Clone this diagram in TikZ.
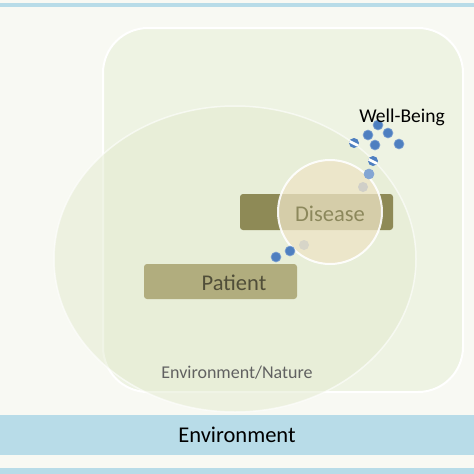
\documentclass[tikz,border=0pt]{standalone}
\usepackage{fontspec}
\setmainfont{Carlito}
\begin{document}
\begin{tikzpicture}[x=1pt,y=-1pt,
  bar/.style={rounded corners=3pt, draw=none},
  dot/.style={circle, inner sep=0pt, minimum size=10pt, fill=dotblue, draw=dotblue!70!white, line width=0.6pt},
  fdot/.style={circle, inner sep=0pt, minimum size=10pt, fill=dotgray, draw=none},
  sdot/.style={circle, inner sep=0pt, minimum size=10pt, fill=dotblue, draw=none, path picture={\fill[white] ([xshift=-6pt,yshift=1pt]path picture bounding box.center) -- ++(12pt,-6pt) -- ++(0,3pt) -- ++(-12pt,6pt) -- cycle;}},
  lbl/.style={inner sep=0pt}]
\definecolor{bg}{HTML}{F8F9F3}
\definecolor{bandblue}{HTML}{B8DCE8}
\definecolor{rectgreen}{HTML}{EEF3E3}
\definecolor{ellgreen}{HTML}{E3EBCF}
\definecolor{diseasebar}{HTML}{8E8A56}
\definecolor{patientbar}{HTML}{B1AD7E}
\definecolor{circfill}{HTML}{EEE4C6}
\definecolor{dotblue}{HTML}{4E7FC0}
\definecolor{dotgray}{HTML}{C9CAC8}
\useasboundingbox (0,0) rectangle (474,474);
\fill[bg] (0,0) rectangle (474,474);
\fill[bandblue] (0,3) rectangle (474,7);
\fill[bandblue] (0,468) rectangle (474,474);
% rounded rectangle
\node[draw=white, line width=2pt, fill=rectgreen, rounded corners=45pt, minimum width=360pt, minimum height=364pt, inner sep=0pt] (rect) at (283,210) {};
% big ellipse
\fill[ellgreen, opacity=0.5] (235,259) ellipse [x radius=181, y radius=153];
\draw[white, line width=1.5pt, opacity=0.6] (235,259) ellipse [x radius=181, y radius=153];
% bars
\node[bar, fill=diseasebar, minimum width=153pt, minimum height=36pt, inner sep=0pt] (dbar) at (316.5,212) {};
\node[bar, fill=patientbar, minimum width=153pt, minimum height=35pt, inner sep=0pt] (pbar) at (220.5,281.5) {};
\node[lbl, text=patientbar!45!black, font=\fontsize{22.5}{22.5}\selectfont, anchor=center] (ptext) at (234,283) {Patient};
% disease circle
\node[circle, fill=circfill, fill opacity=0.75, draw=white, draw opacity=0.9, line width=2pt, minimum size=104pt, inner sep=0pt] (dcirc) at (330,212) {};
\node[lbl, text=diseasebar!85!gray, font=\fontsize{22.5}{22.5}\selectfont] (dtext) at (330,214) {Disease};
% dots
\node[fdot, opacity=0.6] (d1) at (304,245) {};
\node[dot] (d2) at (290,251) {};
\node[dot] (d3) at (276,257) {};
\node[fdot, opacity=0.8] (d4) at (363,187) {};
\node[dot, fill=dotblue!70!white] (d5) at (369,174) {};
\node[sdot] (d6) at (373,161) {};
\node[sdot] (d7) at (354,143) {};
\node[dot] (d8) at (375,145) {};
\node[dot] (d9) at (368,135) {};
\node[dot] (d10) at (388,133) {};
\node[dot] (d11) at (399,144) {};
\node[dot] (d12) at (378,125) {};
% labels
\node[lbl, font=\fontsize{19.5}{19.5}\selectfont] (wb) at (402,117) {Well-Being};
\node[lbl, text=black!62, font=\fontsize{18}{18}\selectfont] (en) at (237,373) {Environment/Nature};
\node[fill=bandblue, minimum width=474pt, minimum height=40pt, inner sep=0pt] (band) at (237,435) {};
\node[lbl, font=\fontsize{22.5}{22.5}\selectfont] (env) at (237,435) {Environment};
\end{tikzpicture}
\end{document}
